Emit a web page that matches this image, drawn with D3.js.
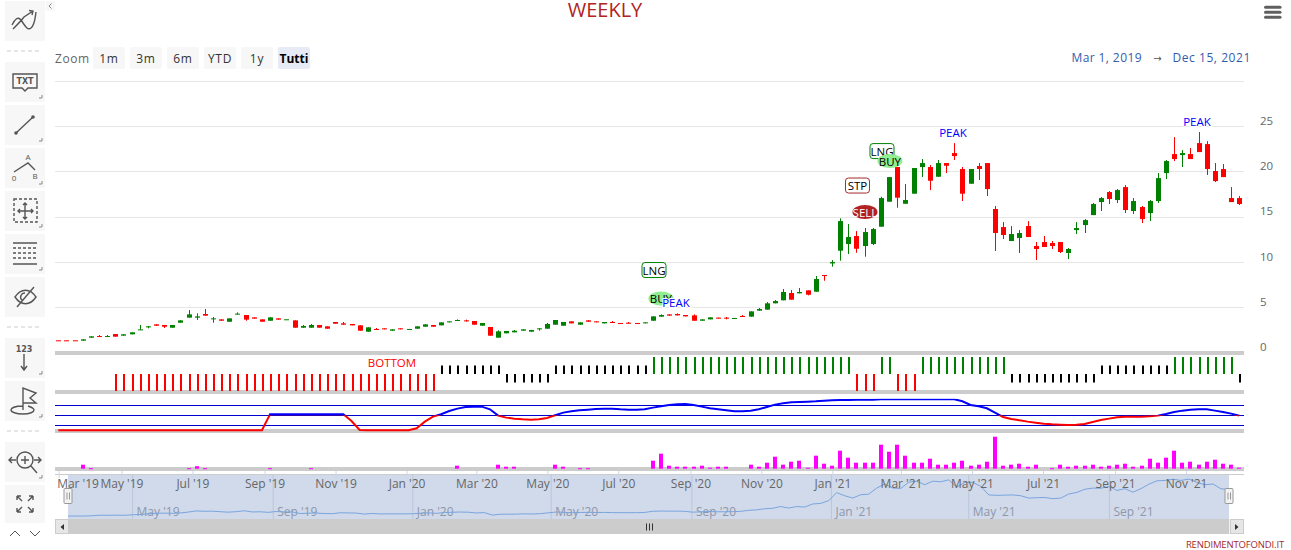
<!DOCTYPE html>
<html>
<head>
<meta charset="utf-8">
<title>WEEKLY</title>
<script src="https://cdn.jsdelivr.net/npm/d3@7/dist/d3.min.js"></script>
<style>
	html, body { margin: 0; padding: 0; background: #fff; overflow: hidden; }
	svg { display: block; font-family: 'Open Sans', sans-serif; }
	text { font-size: 12px; }
</style>
</head>
<body>
<svg id="chart" width="1291" height="550"></svg>
<script>
// weekly bars, first one is 6 Mar 2019, last one 15 Dec 2021
const opens = [
	1.40,1.40,1.40,1.36,1.69,1.87,1.80,2.09,1.91,2.06,
	2.58,2.87,3.16,3.09,2.79,3.34,3.90,3.90,4.30,3.71,
	3.71,3.45,4.26,4.19,3.93,3.71,3.56,3.82,3.70,3.60,
	2.79,2.79,3.09,2.94,3.42,3.27,3.20,3.05,2.35,2.65,
	2.72,2.46,2.72,2.61,2.68,2.90,3.09,3.05,3.38,3.56,
	3.60,3.53,3.01,2.87,1.69,2.17,2.28,2.46,2.35,2.61,
	2.68,3.12,3.01,3.49,3.12,3.60,3.49,3.27,3.42,3.31,
	3.34,3.31,3.27,3.56,4.01,4.26,4.30,4.19,4.15,3.56,
	3.71,3.90,3.90,3.79,4.08,4.01,4.67,4.78,5.48,5.81,
	6.62,6.58,6.91,6.76,8.60,9.88,11.28,12.02,12.90,11.80,
	12.02,13.93,16.69,20.51,16.46,17.57,20.51,20.51,19.44,20.95,
	22.05,20.29,18.67,20.62,20.95,15.88,13.89,12.35,12.68,14.00,
	11.80,12.24,12.13,12.24,11.03,13.56,14.11,15.21,16.65,17.75,
	16.87,18.30,15.66,16.10,15.44,16.76,19.85,21.94,21.83,21.94,
	23.15,23.04,20.07,20.29,17.09,17.09
];
const closes = [
	1.38,1.38,1.38,1.51,1.84,1.80,1.87,1.80,2.06,2.28,
	2.61,2.94,3.01,2.90,3.09,3.60,4.26,4.04,4.12,3.82,
	3.56,3.82,4.34,3.68,3.79,3.45,3.93,3.68,3.72,2.79,
	2.98,3.09,2.79,2.68,3.23,3.12,3.05,2.46,2.83,2.57,
	2.61,2.61,2.61,2.65,2.94,3.16,2.90,3.38,3.49,3.64,
	3.53,3.12,3.31,1.91,2.39,2.43,2.46,2.61,2.54,2.72,
	3.20,3.64,3.42,3.27,3.38,3.45,3.38,3.42,3.31,3.27,
	3.27,3.27,3.38,4.04,4.19,4.12,4.15,4.04,3.56,3.71,
	3.93,3.79,3.79,3.86,4.01,4.59,4.85,5.48,5.73,6.73,
	5.88,6.73,6.43,8.16,8.49,10.03,14.55,12.79,11.50,13.34,
	13.67,17.09,19.40,17.13,16.87,20.40,20.95,19.00,20.95,20.65,
	21.72,17.57,20.29,20.29,18.08,13.23,13.01,13.12,13.23,12.79,
	11.47,11.69,11.80,11.14,11.47,13.78,14.66,16.43,17.09,16.98,
	17.97,15.77,16.76,14.77,16.76,19.29,21.17,21.39,22.05,21.39,
	22.16,20.29,18.96,19.40,16.65,16.43
];
const highs = [
	1.40,1.40,1.40,1.51,1.84,1.98,1.98,2.09,2.06,2.28,
	3.09,2.98,3.16,3.09,3.09,3.60,4.74,4.37,4.85,3.97,
	3.71,3.82,4.48,4.19,3.93,3.71,3.93,3.82,3.72,3.60,
	3.09,3.20,3.09,2.94,3.42,3.42,3.20,3.05,2.83,2.76,
	2.72,2.61,2.72,2.65,2.94,3.16,3.09,3.38,3.49,3.71,
	3.68,3.53,3.31,2.87,2.50,2.43,2.54,2.61,2.54,2.72,
	3.31,3.64,3.42,3.49,3.38,3.60,3.49,3.42,3.53,3.31,
	3.42,3.31,3.38,4.04,4.26,4.26,4.37,4.19,4.26,3.71,
	3.93,3.90,3.97,3.86,4.19,4.59,4.96,5.62,5.84,7.06,
	6.95,7.17,6.91,8.49,8.60,10.25,14.85,14.22,13.45,13.78,
	13.78,17.24,19.40,20.51,18.63,20.40,21.39,20.73,21.28,20.95,
	23.15,20.51,20.29,20.95,20.95,16.21,14.44,14.00,13.56,14.55,
	12.24,12.90,12.35,12.24,11.58,14.44,14.77,16.54,17.20,17.86,
	18.08,18.52,17.09,16.21,16.87,19.85,21.28,23.81,22.38,22.60,
	24.37,23.37,20.95,20.84,18.30,17.31
];
const lows = [
	1.38,1.38,1.38,1.36,1.69,1.80,1.80,1.80,1.91,2.06,
	2.58,2.72,3.01,2.76,2.79,3.34,3.90,3.64,4.12,3.34,
	3.56,3.45,4.26,3.56,3.79,3.45,3.56,3.68,3.70,2.79,
	2.79,2.79,2.79,2.68,3.23,3.12,3.05,2.46,2.35,2.57,
	2.61,2.46,2.61,2.61,2.68,2.90,2.90,3.05,3.38,3.56,
	3.45,3.12,3.01,1.91,1.69,2.17,2.28,2.46,2.35,2.46,
	2.68,3.12,3.01,3.27,3.12,3.45,3.38,3.27,3.31,3.27,
	3.27,3.27,3.27,3.56,4.01,4.12,4.15,4.04,3.56,3.56,
	3.71,3.79,3.71,3.79,4.01,4.01,4.67,4.78,5.48,5.81,
	5.88,6.58,6.36,6.76,7.97,9.52,10.18,10.92,11.06,10.62,
	11.91,13.93,16.69,16.02,16.46,17.57,19.40,17.97,19.44,19.85,
	21.28,16.76,18.67,19.07,17.31,11.25,12.57,12.35,11.03,12.79,
	10.25,11.69,11.47,11.03,10.36,13.12,13.23,15.21,15.66,16.43,
	16.54,15.44,15.33,14.33,14.55,16.54,19.18,21.17,20.51,21.39,
	22.16,19.63,18.85,19.40,16.65,16.32
];
// 2 long, 1 neutral up, -1 neutral down, -2 short, 0 nothing
const signals = [
	0,0,0,0,0,0,0,-2,-2,-2,
	-2,-2,-2,-2,-2,-2,-2,-2,-2,-2,
	-2,-2,-2,-2,-2,-2,-2,-2,-2,-2,
	-2,-2,-2,-2,-2,-2,-2,-2,-2,-2,
	-2,-2,-2,-2,-2,-2,-2,1,1,1,
	1,1,1,1,1,-1,-1,-1,-1,-1,
	-1,1,1,1,1,1,1,1,1,1,
	1,1,1,2,2,2,2,2,2,2,
	2,2,2,2,2,2,2,2,2,2,
	2,2,2,2,2,2,2,2,-2,-2,
	-2,2,2,-2,-2,-2,2,2,2,2,
	2,2,2,2,2,2,2,-1,-1,-1,
	-1,-1,-1,-1,-1,-1,-1,-1,1,1,
	1,1,1,1,1,1,1,2,2,2,
	2,2,2,2,2,-1
];
const oscillator = [
	5,5,5,5,5,5,5,5,5,5,
	5,5,5,5,5,5,5,5,5,5,
	5,5,5,5,5,5,53,53,53,53,
	53,53,53,53,53,53,33,6,5,5,
	5,5,5,5,11,31,46,53,63,70,
	75,76,76,68,49,43,40,38,37,38,
	42,50,58,62,65,67,69,70,70,68,
	67,67,68,73,77,81,83,84,81,76,
	71,68,65,62,62,64,68,75,82,86,
	89,90,91,92,94,95,96,96,97,97,
	97,98,98,98,98,98,98,98,98,98,
	98,92,81,77,71,58,45,39,35,31,
	28,25,23,22,21,22,24,30,36,40,
	44,46,46,46,47,49,54,60,64,67,
	68,68,64,60,55,49
];
const volumes = [
	0,0,0,4,0.5,0,0,0,0,0,
	0,0,0,0,0,0,0.5,2.5,0.5,0,
	0,0,0,0,0,0,0.5,0,0,0,
	0,0.5,0,0,0,0,0,0,0,0,
	0,0,0,0,0,0,0,0,0,3,
	0,0,0,0,4,2,2,0,0,0,
	0,4,2,0,0.5,0.5,0,0,0,0,
	0,0,0,8,15,3,2,2,2,3,
	1,2,2,0,0,4,2,6,12,4,
	7,8,1,13,5,3,18,11,6,6,
	6,24,17,24,13,6,6,10,4,4,
	6,8,3,4,7,32,3,4,5,2,
	4,0,0.5,4,2,3,3,4,2,3,
	4,5,2,3,10,6,11,18,6,7,
	4,7,9,5,4,1
];

const yTicks = [0, 5, 10, 15, 20, 25];
const gridTicks = [0, 5, 10, 15, 20, 25, 30];
const oscLevels = [20, 50, 80];
const tickDates = ['2019-03-08','2019-05-01','2019-07-01','2019-09-01','2019-11-01','2020-01-01','2020-03-01','2020-05-01','2020-07-01','2020-09-01','2020-11-01','2021-01-01','2021-03-01','2021-05-01','2021-07-01','2021-09-01','2021-11-01'];
const navTickDates = ['2019-05-01','2019-09-01','2020-01-01','2020-05-01','2020-09-01','2021-01-01','2021-05-01','2021-09-01'];
const rangeLabels = ['1m', '3m', '6m', 'YTD', '1y', 'Tutti'];

// flags on the price panel, bar position can fall between two bars
const annTexts = ['LNG', 'BUY', 'PEAK', 'STP', 'SELL', 'LNG', 'BUY', 'PEAK', 'PEAK'];
const annKinds = ['long', 'buy', 'peak', 'stop', 'sell', 'long', 'buy', 'peak', 'peak'];
const annBars = [73.14, 73.99, 75.84, 98.12, 99.04, 101.13, 102.1, 109.85, 139.8];
const annValues = [9.15, 6.01, 5.62, 18.47, 15.55, 22.27, 21.17, 24.37, 25.58];

const parse = d3.utcParse('%Y-%m-%d');
const start = parse('2019-03-06');
const dates = d3.utcDay.range(start, parse('2021-12-16'), 7);
const bars = dates.map((d, i) => ({ date: d, open: opens[i], high: highs[i], low: lows[i], close: closes[i], signal: signals[i], osc: oscillator[i], vol: volumes[i] }));

const left = 55;
const right = 1244;
const fmt = d3.utcFormat("%b '%y");

const x = d3.scaleUtc().domain([start, dates[dates.length - 1]]).range([58.3, 1239.3]);
const xNav = d3.scaleUtc().domain(x.domain()).range([68, 1229]);
const y = d3.scaleLinear().domain([0, 30]).range([353, 81]);
const ySig = d3.scaleLinear().domain([-2, 2]).range([391, 357]);
const yOsc = d3.scaleLinear().domain([20, 80]).range([425.3, 405.3]);
const yVol = d3.scaleLinear().domain([0, 32]).range([468.7, 436.7]);
const yNav = d3.scaleLinear().domain([0, 25]).range([518.5, 474]);
const xBar = i => x(+start + i * 7 * 864e5);

const svg = d3.select('#chart');
const colorOf = d => (d.close >= d.open ? '#008000' : '#ff0000');
const crisp = v => Math.round(v) + 0.5;
const crispDown = v => Math.floor(v) + 0.5;

function drawChrome() {
	svg.append('text').attr('x', 605).attr('y', 17).attr('text-anchor', 'middle')
		.style('font-size', '20px').attr('fill', '#b22222').text('WEEKLY');

	svg.append('g').attr('fill', '#5f5f5f').selectAll('rect').data([5.7, 10.7, 15.7]).join('rect')
		.attr('x', 1264).attr('y', d => d).attr('width', 17.5).attr('height', 3).attr('rx', 1.5);

	svg.append('text').attr('x', 55).attr('y', 63).attr('fill', '#666')
		.style('letter-spacing', '0.6px').text('Zoom');
	const btn = svg.append('g').selectAll('g').data(rangeLabels).join('g')
		.attr('transform', (d, i) => `translate(${93 + i * 37},47)`);
	btn.append('rect').attr('width', 32).attr('height', 22).attr('rx', 2)
		.attr('fill', d => (d === 'Tutti' ? '#e6ebf5' : '#f7f7f7'));
	btn.append('text').attr('x', 16).attr('y', 16).attr('text-anchor', 'middle')
		.attr('fill', d => (d === 'Tutti' ? '#000' : '#333'))
		.style('font-weight', d => (d === 'Tutti' ? 'bold' : 'normal'))
		.style('letter-spacing', d => (d === 'Tutti' ? '0' : '0.7px'))
		.text(d => d);

	svg.append('text').attr('x', 1071.5).attr('y', 62).attr('fill', '#335cad')
		.style('letter-spacing', '0.4px').text('Mar 1, 2019');
	svg.append('text').attr('x', 1157.5).attr('y', 62).attr('text-anchor', 'middle').attr('fill', '#555')
		.style('font-family', 'DejaVu Sans').style('font-size', '10px').text('→');
	svg.append('text').attr('x', 1172.5).attr('y', 62).attr('fill', '#335cad')
		.style('letter-spacing', '0.55px').text('Dec 15, 2021');

	svg.append('text').attr('x', 1284).attr('y', 548).attr('text-anchor', 'end')
		.style('font-size', '9.5px').style('letter-spacing', '-0.15px').attr('fill', '#a52a2a').text('RENDIMENTOFONDI.IT');
}

function drawToolbar() {
	const icons = [
		{ y: 1, h: 40, d: 'M7 24C10 18 13 15 16 19S22 30 26 27S30 17 31 11M8 28C12 24 16 20 19 16L28 10M24 9.5L28 10L27 14', corner: false },
		{ y: 62, h: 40, d: 'M8 12H32V26H23L20 29L17 26H8Z', corner: true, text: 'TXT', tx: 20, ty: 22, size: 8, bold: true },
		{ y: 105, h: 40, d: 'M11 28L28 12', corner: true, dots: [[11, 28], [28, 12]] },
		{ y: 148, h: 40, d: 'M9 24L23 15L30 22', corner: true, letters: [['A', 23, 12], ['0', 9, 33], ['B', 30, 31]] },
		{ y: 191, h: 40, d: 'M20 12V28M13 20H28M18 14L20 12L22 14M18 26L20 28L22 26M15 18L13 20L15 22M26 18L28 20L26 22', corner: true, dashed: 'M9 8H32V31H9Z' },
		{ y: 234, h: 40, d: 'M8 9H32M8 30H32', corner: true, dashed: 'M8 14H32M8 19H32M8 24H32' },
		{ y: 277, h: 40, d: 'M10 20C16 11 25 11 31 20C25 29 16 29 10 20ZM12 30L29 10M20 16A4 4 0 0 0 17 23', corner: false },
		{ y: 338, h: 40, d: 'M19 16V31M16 28L19 32L22 28', corner: true, text: '123', tx: 19, ty: 14, size: 8, bold: true },
		{ y: 381, h: 40, d: 'M18 29V7L31 12L25 17L31 22L18 22M18 25C10 25 6 27 6 29C6 31 11 33 18 33C25 33 29 31 29 29C29 27 26 26 23 25', corner: true },
		{ y: 442, h: 40, d: 'M20 10A8 8 0 1 0 20 26A8 8 0 1 0 20 10ZM26 24L32 31M20 14V22M16 18H24M4 18H11M29 18H36M7 15L4 18L7 21M33 15L36 18L33 21', corner: true },
		{ y: 485, h: 38, d: 'M12 11L17 16M12 11V15M12 11H16M28 11L23 16M28 11V15M28 11H24M12 27L17 22M12 27V23M12 27H16M28 27L23 22M28 27V23M28 27H24', corner: false }
	];
	const btn = svg.append('g').selectAll('g').data(icons).join('g')
		.attr('transform', d => `translate(5,${d.y})`);
	btn.append('rect').attr('width', 40).attr('height', d => d.h).attr('fill', '#f7f7f7');
	btn.append('path').attr('d', d => d.d).attr('fill', 'none').attr('stroke', '#555').attr('stroke-width', 1.4);
	btn.filter(d => d.dashed).append('path').attr('d', d => d.dashed).attr('fill', 'none')
		.attr('stroke', '#555').attr('stroke-width', 1.4).attr('stroke-dasharray', '3 2');
	btn.filter(d => d.corner).append('path').attr('d', 'M34 36H37V33').attr('fill', 'none').attr('stroke', '#888');
	btn.filter(d => d.text).append('text').attr('x', d => d.tx).attr('y', d => d.ty)
		.attr('text-anchor', 'middle').attr('fill', '#555').style('font-size', d => d.size + 'px')
		.style('font-weight', 'bold').style('font-family', 'DejaVu Sans').text(d => d.text);
	btn.each(function (d) {
		const g = d3.select(this);
		(d.dots || []).forEach(p => g.append('circle').attr('cx', p[0]).attr('cy', p[1]).attr('r', 1.8).attr('fill', '#555'));
		(d.letters || []).forEach(p => g.append('text').attr('x', p[1]).attr('y', p[2]).attr('text-anchor', 'middle')
			.attr('fill', '#555').style('font-size', '8px').text(p[0]));
	});

	svg.append('g').attr('stroke', '#ccc').attr('stroke-dasharray', '4 3').selectAll('line').data([51, 327, 431]).join('line')
		.attr('x1', 7).attr('x2', 40).attr('y1', d => d).attr('y2', d => d);

	svg.append('rect').attr('x', 46).attr('y', 1).attr('width', 9).attr('height', 10).attr('fill', '#f7f7f7');
	svg.append('path').attr('d', 'M51.5 3.5L49 6L51.5 8.5').attr('fill', 'none').attr('stroke', '#888');
	svg.append('path').attr('d', 'M10 536L15 531L20 536M30 531L35 536L40 531').attr('fill', 'none').attr('stroke', '#555');
}

function drawGrid() {
	svg.append('g').attr('stroke', '#e6e6e6').selectAll('line').data(gridTicks).join('line')
		.attr('x1', left).attr('x2', right).attr('y1', d => crispDown(y(d))).attr('y2', d => crispDown(y(d)));

	const yAxis = d3.axisRight(y).tickValues(yTicks).tickSize(0).tickPadding(16);
	const gy = svg.append('g').attr('transform', `translate(${right},-6)`).call(yAxis);
	gy.select('.domain').remove();
	gy.selectAll('text').attr('fill', '#666').style('font-size', '11.5px').style('font-family', "'Open Sans', sans-serif");

	// grey separators between the panels
	svg.append('g').attr('fill', '#cccccc').selectAll('rect').data([351, 390, 429, 467]).join('rect')
		.attr('x', left).attr('width', right - left).attr('y', d => d).attr('height', 4);
}

function drawCandles() {
	const g = svg.append('g').selectAll('g').data(bars).join('g');
	g.append('line')
		.attr('x1', d => crisp(x(d.date))).attr('x2', d => crisp(x(d.date)))
		.attr('y1', d => y(d.high)).attr('y2', d => y(d.low))
		.attr('stroke', colorOf);
	g.append('rect')
		.attr('x', d => Math.round(x(d.date)) - 2).attr('width', 5)
		.attr('y', d => y(Math.max(d.open, d.close)))
		.attr('height', d => Math.max(1, Math.abs(y(d.open) - y(d.close))))
		.attr('fill', colorOf);
}

function drawAnnotations() {
	const rows = annTexts.map((t, i) => ({ text: t, kind: annKinds[i], bar: annBars[i], value: annValues[i] }));
	const g = svg.append('g').selectAll('g').data(rows).join('g')
		.attr('transform', d => `translate(${xBar(d.bar)},${y(d.value)})`);
	g.filter(d => d.kind === 'long' || d.kind === 'stop').append('rect')
		.attr('x', -12).attr('y', -7.5).attr('width', 24).attr('height', 15).attr('rx', 3)
		.attr('fill', '#fff').attr('stroke', d => (d.kind === 'long' ? '#008000' : '#a52a2a'));
	g.filter(d => d.kind === 'buy' || d.kind === 'sell').append('ellipse')
		.attr('rx', 12.5).attr('ry', 7)
		.attr('fill', d => (d.kind === 'buy' ? '#90ee90' : '#b22222'));
	g.append('text').attr('text-anchor', 'middle').attr('y', 4.5)
		.attr('fill', d => (d.kind === 'peak' ? '#0000ff' : d.kind === 'sell' ? '#fff' : '#000'))
		.attr('stroke', d => (d.kind === 'peak' ? '#fff' : 'none')).attr('stroke-width', 2)
		.style('paint-order', 'stroke')
		.style('font-size', '11.5px')
		.text(d => d.text);
}

function drawSignals() {
	const sigColor = { '2': '#008000', '1': '#000', '-1': '#000', '-2': '#ff0000' };
	svg.append('g').selectAll('rect').data(bars.filter(d => d.signal !== 0)).join('rect')
		.attr('x', d => Math.round(x(d.date))).attr('width', 2)
		.attr('y', d => Math.min(ySig(d.signal), ySig(0)))
		.attr('height', d => Math.abs(ySig(d.signal) - ySig(0)))
		.attr('fill', d => sigColor[d.signal]);
	svg.append('text').attr('x', xBar(40.97)).attr('y', ySig(1.3) + 4.5).attr('text-anchor', 'middle')
		.attr('fill', '#ff0000').style('font-size', '11.5px').text('BOTTOM');
}

function drawOscillator() {
	svg.append('g').attr('stroke', '#0000cd').selectAll('line').data(oscLevels).join('line')
		.attr('x1', left).attr('x2', right).attr('y1', d => crispDown(yOsc(d))).attr('y2', d => crispDown(yOsc(d)));

	const defs = svg.append('defs');
	defs.append('clipPath').attr('id', 'above').append('rect')
		.attr('x', left).attr('width', right - left).attr('y', yOsc(100)).attr('height', yOsc(50) - yOsc(100));
	defs.append('clipPath').attr('id', 'below').append('rect')
		.attr('x', left).attr('width', right - left).attr('y', yOsc(50)).attr('height', yOsc(0) - yOsc(50));

	const line = d3.line().x(d => x(d.date)).y(d => yOsc(d.osc));
	svg.append('path').datum(bars).attr('d', line).attr('fill', 'none')
		.attr('stroke', '#0000ff').attr('stroke-width', 2).attr('clip-path', 'url(#above)');
	svg.append('path').datum(bars).attr('d', line).attr('fill', 'none')
		.attr('stroke', '#ff0000').attr('stroke-width', 2).attr('clip-path', 'url(#below)');
}

function drawVolume() {
	svg.append('g').attr('fill', '#ff00ff').selectAll('rect').data(bars.filter(d => d.vol > 0)).join('rect')
		.attr('x', d => Math.round(x(d.date)) - 2).attr('width', 4)
		.attr('y', d => yVol(d.vol))
		.attr('height', d => Math.max(1, yVol(0) - yVol(d.vol)));
}

function drawNavigator() {
	const x0 = xNav.range()[0];
	const x1 = xNav.range()[1];

	svg.append('line').attr('x1', left).attr('x2', right).attr('y1', 474.5).attr('y2', 474.5).attr('stroke', '#ccc');
	svg.append('rect').attr('x', x0).attr('y', 475).attr('width', x1 - x0).attr('height', 44).attr('fill', '#d1daeb');

	const navAxis = d3.axisBottom(xNav).tickValues(navTickDates.map(parse)).tickFormat(fmt).tickSize(44);
	const gn = svg.append('g').attr('transform', 'translate(0,475)').call(navAxis);
	gn.select('.domain').remove();
	gn.selectAll('line').attr('stroke', '#bcc6da');
	gn.selectAll('text').attr('text-anchor', 'start').attr('x', 4).attr('y', 41).attr('dy', 0)
		.attr('fill', '#8f97a8').style('font-size', '12px').style('font-family', "'Open Sans', sans-serif");

	const line = d3.line().x(d => xNav(d.date)).y(d => yNav(d.close));
	svg.append('path').datum(bars).attr('d', line).attr('fill', 'none').attr('stroke', '#78a5de').attr('stroke-width', 1);

	// scrollbar under the navigator
	svg.append('rect').attr('x', left).attr('y', 519).attr('width', right - left).attr('height', 15).attr('fill', '#f2f2f2');
	svg.append('rect').attr('x', x0).attr('y', 519).attr('width', x1 - x0).attr('height', 15).attr('fill', '#cccccc');
	svg.append('g').attr('fill', '#e6e6e6').attr('stroke', '#ccc').selectAll('rect').data([left, x1 + 1]).join('rect')
		.attr('x', d => d + 0.5).attr('y', 519.5).attr('width', 13).attr('height', 14);
	svg.append('path').attr('d', 'M64 524V530L60.5 527ZM1235 524V530L1238.5 527Z').attr('fill', '#333');
	svg.append('path').attr('d', 'M646.5 523.5V530.5M649.5 523.5V530.5M652.5 523.5V530.5').attr('stroke', '#333');

	// drag handles at both ends
	const hd = svg.append('g').selectAll('g').data([x0, x1]).join('g').attr('transform', d => `translate(${d - 4},488.5)`);
	hd.append('rect').attr('width', 8).attr('height', 15).attr('rx', 1).attr('fill', '#f2f2f2').attr('stroke', '#999');
	hd.append('path').attr('d', 'M3 4V11M5.5 4V11').attr('stroke', '#999');

	const xAxis = d3.axisBottom(x).tickValues(tickDates.map(parse)).tickFormat(fmt).tickSize(7);
	const gx = svg.append('g').attr('transform', 'translate(-2,471)').call(xAxis);
	gx.select('.domain').remove();
	gx.selectAll('line').attr('stroke', '#ccd6eb');
	gx.selectAll('text').attr('fill', '#666').attr('y', 8).style('font-size', '12px').style('font-family', "'Open Sans', sans-serif");
	gx.select('.tick text').attr('text-anchor', 'start').attr('x', -2);
}

drawGrid();
drawNavigator();
drawChrome();
drawToolbar();
drawCandles();
drawSignals();
drawOscillator();
drawVolume();
drawAnnotations();
</script>
</body>
</html>
